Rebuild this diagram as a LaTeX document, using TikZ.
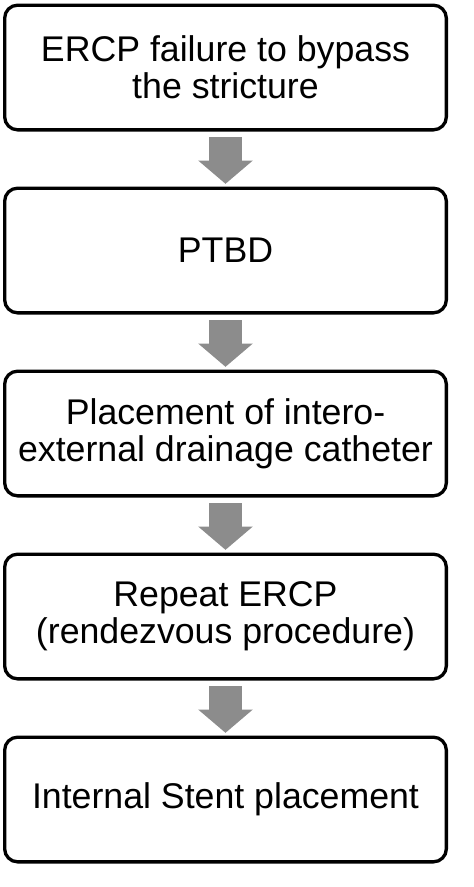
\documentclass[tikz,border=0pt]{standalone}
\usepackage{fontspec}
\setmainfont{Liberation Sans}
\usetikzlibrary{arrows.meta}
\usetikzlibrary{calc}
\usetikzlibrary{positioning}
\definecolor{arrowgray}{RGB}{140,140,140}

\begin{document}
\begin{tikzpicture}[
    x=1pt,y=1pt,
    stagebox/.style={draw,rectangle,rounded corners=13pt,line width=3.3pt,
      minimum width=441.7pt,minimum height=124.7pt,align=center,
      font=\fontsize{35.7}{37}\selectfont},
    flowarrow/.style={draw=arrowgray,line width=33.4pt,
      -{Triangle[width=54.7pt,length=23.3pt,line width=0pt]}}]

  \useasboundingbox (0,0) rectangle (474,-887);

  \node [stagebox] (failure) at (225.5,-67.5) {ERCP failure to bypass\\the stricture};
  \node [stagebox,below=55pt of failure] (ptbd) {PTBD};
  \node [stagebox,below=55pt of ptbd] (drain) {Placement of intero-\\external drainage catheter};
  \node [stagebox,below=55pt of drain] (repeat) {Repeat ERCP\\(rendezvous procedure)};
  \node [stagebox,below=55pt of repeat] (stent) {Internal Stent placement};

  \foreach \a/\b in {failure/ptbd,ptbd/drain,drain/repeat,repeat/stent}
    \path [flowarrow] ($(\a.south)+(0,-5.7)$) -- ($(\b.north)+(0,2.7)$);
\end{tikzpicture}
\end{document}
